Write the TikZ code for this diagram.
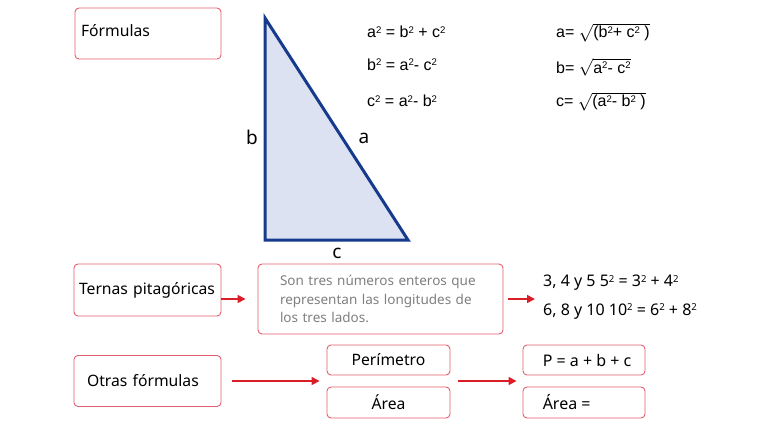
\documentclass[tikz,border=0pt]{standalone}
\usepackage{fontspec}
\setmainfont{Noto Sans}
\newfontfamily\formfont{Liberation Sans}
\usetikzlibrary{positioning,arrows.meta}
\definecolor{BoxRed}{RGB}{226,96,110}
\definecolor{ArrowRed}{RGB}{218,30,40}
\definecolor{TriBlue}{RGB}{22,58,140}
\definecolor{TriFill}{RGB}{221,226,242}
% exponente pequeno
\newcommand{\dos}{\raisebox{0.28em}{\scalebox{0.6}{2}}}
\tikzset{
    box/.style={draw=BoxRed, rounded corners=4pt, line width=0.9pt, fill=white, inner sep=0pt, font=\fontsize{15.7}{18}\selectfont},
    flecha/.style={draw=ArrowRed, line width=1.6pt, -{Triangle[length=8pt,width=8pt]}},
    formula/.style={anchor=base west, inner sep=0pt, font=\formfont\fontsize{16}{18}\selectfont},
    texto/.style={anchor=base west, inner sep=0pt, font=\fontsize{16}{18}\selectfont}
}
\begin{document}
\begin{tikzpicture}[
                x=1pt, y=-1pt,
                % Lados del triangulo
                lado/.style={inner sep=0pt, font=\fontsize{19}{22}\selectfont},
                % Triangulo: relleno claro, borde azul
                triangulo/.style={
                    draw=TriBlue,
                    fill=TriFill,
                    line width=3pt,
                    line join=miter
                }
            ]
                \useasboundingbox (0,0) rectangle (770,424);
                % Triangulo rectangulo
                \coordinate (A) at (265,18);
                \coordinate (C) at (265,240);
                \coordinate (B) at (408,240);
                \draw[triangulo] (A) -- (C) -- (B) -- cycle;
                \node[lado] (lb) at (252,137) {b};
                \node[lado] (la) at (364,138) {a};
                \node[lado] (lc) at (337,253) {c};
                % Formulas
                \node[box, minimum width=146pt, minimum height=51pt, text width=134pt, align=left, text depth=6pt] (formulas) at (148,33.5) {Fórmulas};
                \node[formula] (fa) at (367,37.7) {a\dos{} = b\dos{} + c\dos};
                \node[formula] (fb) at (367,70) {b\dos{} = a\dos- c\dos};
                \node[formula] (fc) at (367,106.7) {c\dos{} = a\dos- b\dos};
                \node[formula] (ra) at (556,37.7) {a= $\sqrt{\mbox{(b\dos+ c\dos{} )}}$};
                \node[formula] (rb) at (556,73.3) {b= $\sqrt{\mbox{a\dos- c\dos}}$};
                \node[formula] (rc) at (556,106.7) {c= $\sqrt{\mbox{(a\dos- b\dos{} )}}$};
                % Ternas pitagoricas
                \node[box, minimum width=147pt, minimum height=52pt, text width=137pt, align=left] (ternas) at (147.5,290) {\mbox{Ternas pitagóricas}};
                \node[box, minimum width=245pt, minimum height=70pt, text width=201pt, align=left, text=black!50, font=\fontsize{13.5}{18.3}\selectfont] (desc) at (380.5,299)
                    {Son tres números enteros que\\representan las longitudes de\\los tres lados.};
                \node[texto] (trio1) at (543,286.7) {3, 4 y 5 5\dos{} = 3\dos{} + 4\dos};
                \node[texto] (trio2) at (543,315) {6, 8 y 10 10\dos{} = 6\dos{} + 8\dos};
                \draw[flecha, shorten >=12pt] (ternas.east |- desc.west) -- (desc.west);
                \draw[flecha, shorten <=5pt, shorten >=8pt] (desc.east) -- (desc.east -| trio1.west);
                % Otras formulas
                \node[box, minimum width=147pt, minimum height=51pt, text width=121pt, align=left] (otras) at (147.5,381) {Otras fórmulas};
                \node[box, minimum width=123pt, minimum height=30pt] (perim) at (388.5,360) {Perímetro};
                \node[box, minimum width=123pt, minimum height=31pt] (area) at (388.5,402.5) {Área};
                \node[box, minimum width=122pt, minimum height=30pt] (pbox) at (584,360) {};
                \node[box, minimum width=122pt, minimum height=31pt] (abox) at (584,402.5) {};
                \node[texto, anchor=west] (ptxt) at ([xshift=20pt]pbox.west) {P = a + b + c};
                \node[texto, anchor=west] (atxt) at ([xshift=20pt]abox.west) {Área =};
                \draw[flecha, shorten <=11pt, shorten >=7pt] (otras.east) -- (otras.east -| perim.west);
                \draw[flecha, shorten <=8pt, shorten >=6pt] (otras.east -| perim.east) -- (otras.east -| pbox.west);
            \end{tikzpicture}
\end{document}
